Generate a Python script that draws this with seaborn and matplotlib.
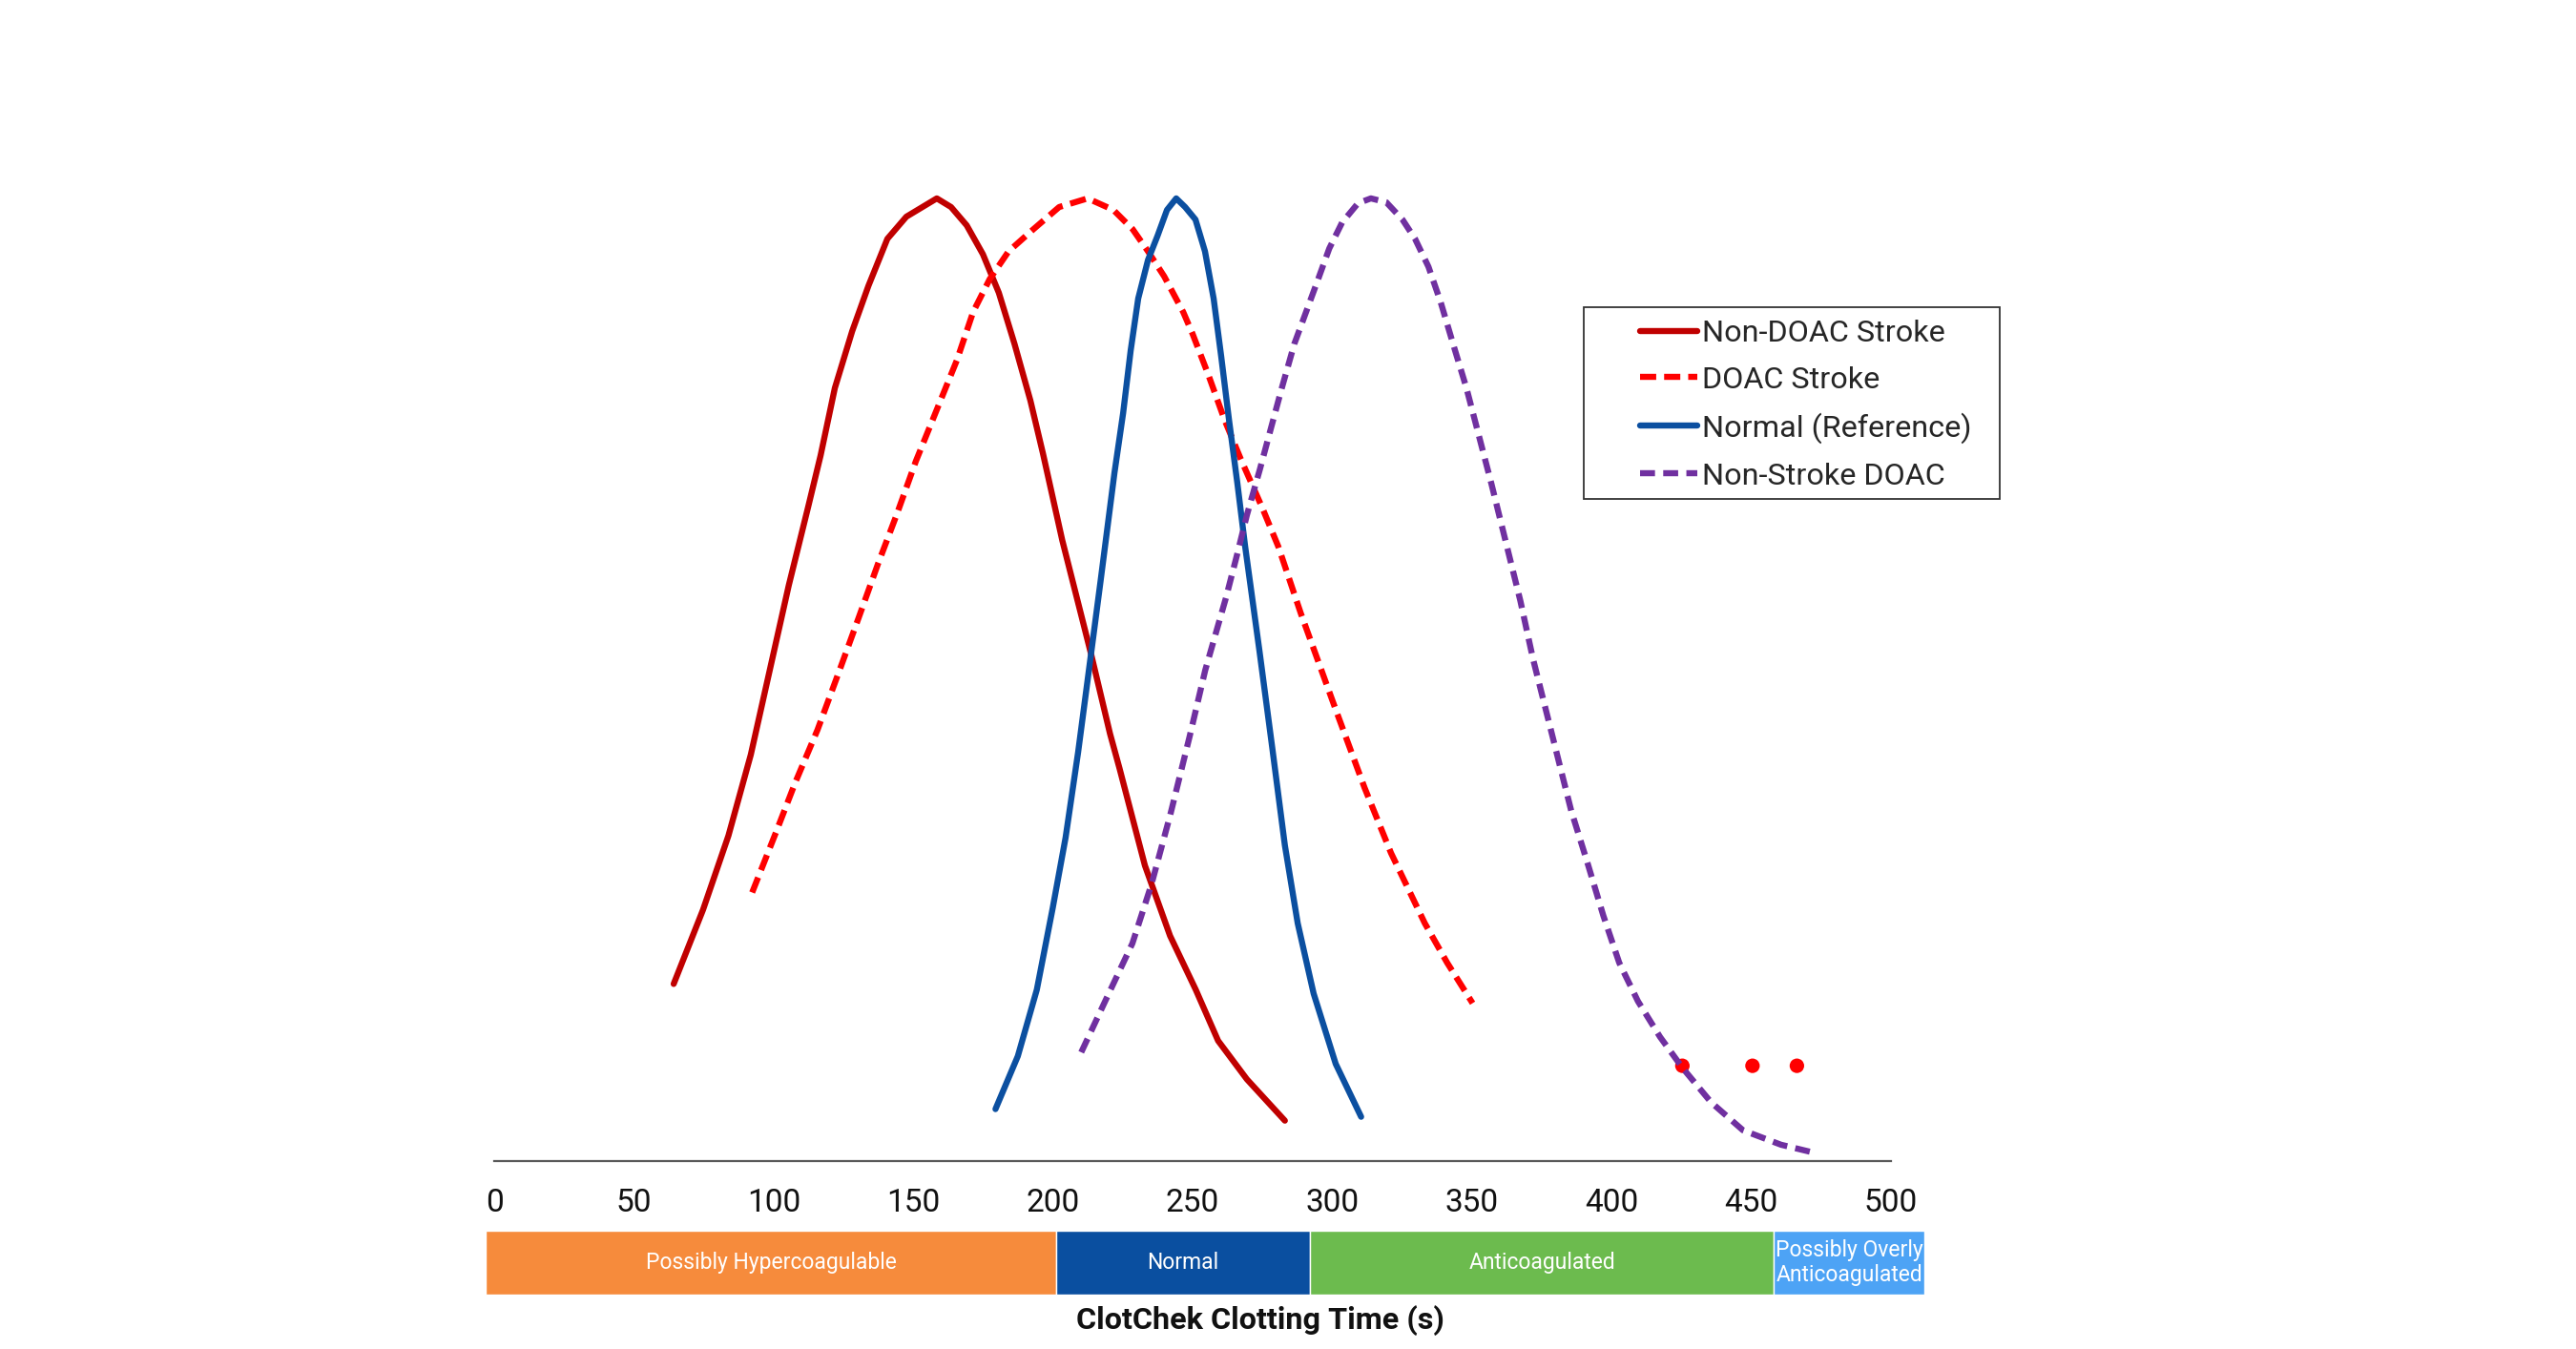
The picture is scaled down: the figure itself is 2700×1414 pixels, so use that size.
import matplotlib
matplotlib.use("Agg")
import matplotlib.pyplot as plt
import seaborn as sns
from matplotlib.lines import Line2D
from matplotlib.patches import Rectangle

# curves (x = clotting time in s, y = relative frequency, peak = 1)
non_doac_x = [64.2, 74.7, 83.8, 91.8, 98.6, 105.4, 112.3, 116.8, 121.9, 128.1, 133.9, 140.7, 147.5,
              158.4, 163.5, 169.1, 174.9, 180.6, 186.2, 191.9, 196.4, 203.3, 213.6, 220.4, 223.8,
              232.9, 241.9, 251.1, 259.1, 269.4, 283.0]
non_doac_y = [0.184, 0.261, 0.338, 0.422, 0.510, 0.598, 0.679, 0.733, 0.803, 0.862, 0.909, 0.958, 0.981,
              1.0, 0.991, 0.972, 0.942, 0.902, 0.849, 0.790, 0.735, 0.645, 0.527, 0.444, 0.408,
              0.307, 0.234, 0.178, 0.125, 0.085, 0.042]

doac_x = [92.3, 100.9, 107.7, 115.7, 123.6, 130.5, 137.3, 144.1, 150.9, 165.6, 171.4, 177.3, 184.1,
          193.0, 202.2, 212.4, 221.6, 228.5, 234.0, 239.8, 246.6, 250.0, 255.7, 261.4, 267.1, 275.0,
          280.7, 288.7, 301.2, 311.5, 321.0, 333.1, 341.1, 350.2]
doac_y = [0.279, 0.342, 0.393, 0.448, 0.510, 0.565, 0.620, 0.672, 0.727, 0.832, 0.882, 0.916, 0.945,
          0.968, 0.991, 1.0, 0.988, 0.968, 0.945, 0.919, 0.882, 0.859, 0.816, 0.770, 0.730, 0.678,
          0.638, 0.569, 0.469, 0.388, 0.320, 0.247, 0.206, 0.164]

# isolated DOAC stroke points in the tail
doac_dots_x = [425.3, 450.4, 466.3]
doac_dots_y = [0.099, 0.099, 0.099]

normal_x = [179.4, 187.4, 194.2, 199.9, 204.5, 209.0, 212.4, 217.0, 222.0, 225.1, 227.8, 230.5, 234.0,
            237.4, 240.8, 244.1, 247.3, 251.0, 254.4, 257.5, 260.2, 263.0, 266.0, 268.8, 273.9, 278.5,
            283.0, 287.6, 293.3, 301.2, 310.3]
normal_y = [0.054, 0.109, 0.178, 0.263, 0.336, 0.425, 0.500, 0.602, 0.715, 0.777, 0.842, 0.896, 0.936,
            0.961, 0.988, 1.0, 0.991, 0.978, 0.945, 0.896, 0.836, 0.770, 0.704, 0.638, 0.530, 0.429,
            0.328, 0.247, 0.174, 0.101, 0.046]

non_stroke_x = [210.1, 219.3, 228.4, 235.2, 242.0, 248.9, 254.5, 261.9, 265.9, 269.4, 274.0, 277.9,
                281.9, 286.4, 294.4, 298.9, 303.5, 309.2, 313.8, 319.3, 325.1, 329.6, 334.4, 338.8,
                343.2, 348.0, 352.5, 356.9, 362.1, 367.3, 371.8, 376.4, 380.9, 385.5, 391.2, 397.0,
                402.7, 409.4, 417.3, 425.3, 435.6, 447.0, 460.6, 472.0]
non_stroke_y = [0.113, 0.170, 0.226, 0.287, 0.360, 0.441, 0.510, 0.585, 0.630, 0.671, 0.718, 0.760,
                0.803, 0.849, 0.912, 0.948, 0.975, 0.995, 1.0, 0.996, 0.978, 0.958, 0.929, 0.892,
                0.849, 0.803, 0.753, 0.704, 0.643, 0.582, 0.522, 0.469, 0.417, 0.364, 0.311, 0.255,
                0.206, 0.166, 0.129, 0.097, 0.061, 0.032, 0.017, 0.009]

series_labels = ["Non-DOAC Stroke", "DOAC Stroke", "Normal (Reference)", "Non-Stroke DOAC"]

band_edges = [-3, 201, 292, 458, 512]
band_labels = ["Possibly Hypercoagulable", "Normal", "Anticoagulated", "Possibly Overly\nAnticoagulated"]
band_colors = ["#F68B3C", "#0A4FA0", "#6CBB4E", "#4DA3F5"]

x_ticks = [0, 50, 100, 150, 200, 250, 300, 350, 400, 450, 500]

sns.set_style("white")
plt.rcParams["font.family"] = ["Roboto", "DejaVu Sans"]

fig = plt.figure(figsize=(27, 14.14), dpi=100)
ax = fig.add_axes([0.1919, 0.1393, 0.7341 - 0.1919, 0.785])

lw = 4.6
styles = [
    (non_doac_x, non_doac_y, "#C00000", "-"),
    (doac_x, doac_y, "#FF0000", (0, (2.65, 1.3))),
    (normal_x, normal_y, "#0B4FA0", "-"),
    (non_stroke_x, non_stroke_y, "#7030A0", (0, (2.45, 1.35))),
]
for xs, ys, color, ls in styles:
    sns.lineplot(x=xs, y=ys, ax=ax, color=color, linewidth=lw, linestyle=ls, clip_on=False)
for line in ax.lines:
    line.set_dash_capstyle("butt")
    line.set_solid_capstyle("round")
    line.set_solid_joinstyle("round")
    line.set_dash_joinstyle("round")

sns.scatterplot(x=doac_dots_x, y=doac_dots_y, ax=ax, color="#FF0000", s=120, edgecolor="none", clip_on=False)

ax.set_xlim(0, 500)
ax.set_ylim(0, 1.1)
ax.set_xticks(x_ticks)
ax.set_yticks([])
ax.tick_params(axis="x", length=0, pad=20, labelsize=24, labelcolor="#111111")
for side in ["top", "right", "left"]:
    ax.spines[side].set_visible(False)
ax.spines["bottom"].set_color("#595959")
ax.spines["bottom"].set_linewidth(1.6)
ax.set_xlabel("")
ax.set_ylabel("")

# legend, drawn without frame and boxed by a separate rectangle
handles = [Line2D([], [], color=c, linewidth=lw, linestyle=ls, dash_capstyle="butt", solid_capstyle="round")
           for _, _, c, ls in styles]
fig.legend(handles, series_labels, loc="upper left", bbox_to_anchor=(0.6365, 0.7631),
           frameon=False, fontsize=23.3, handlelength=1.86, handletextpad=0.15,
           labelspacing=0.61, borderpad=0, borderaxespad=0)
fig.patches.append(Rectangle((1660 / 2700, 1 - 523 / 1414), (2096 - 1660) / 2700, (523 - 322) / 1414,
                             transform=fig.transFigure, fill=False, edgecolor="#333333", linewidth=1.3))

# category band under the axis
bax = fig.add_axes([0.1919, 0.0403, 0.7341 - 0.1919, 0.0474])
bax.set_xlim(0, 500)
bax.set_ylim(0, 1)
bax.axis("off")
for i, lab in enumerate(band_labels):
    left, right = band_edges[i], band_edges[i + 1]
    bax.barh(0.5, right - left, left=left, height=1, color=band_colors[i], clip_on=False)
    bax.text((left + right) / 2, 0.5, lab, color="white", fontsize=16.5, ha="center", va="center",
             linespacing=1.12)

fig.text(1321 / 2700, 1 - 1384 / 1414, "ClotChek Clotting Time (s)", fontsize=23.3, fontweight="bold",
         ha="center", va="center", color="#111111")

fig.savefig("out.png", dpi=100, facecolor="white")
